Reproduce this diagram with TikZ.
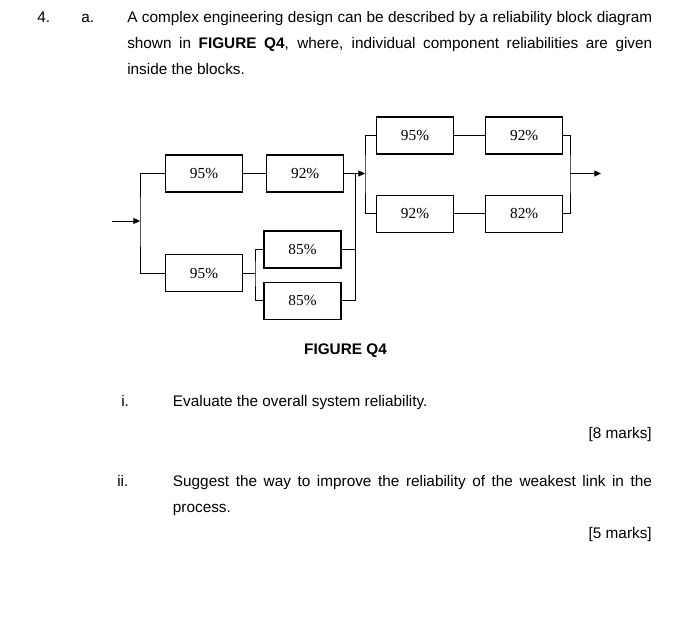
\documentclass[tikz,border=0pt]{standalone}
\usepackage{fontspec}
\setmainfont{Liberation Sans}
\newfontfamily\blkfont{Liberation Serif}
\usetikzlibrary{arrows.meta,positioning}

\begin{document}
\begin{tikzpicture}[
			x=0.75pt, y=-0.75pt,
			font=\fontsize{11.5}{19.6}\selectfont,
			>={Triangle[length=5pt,width=4.5pt]},
			blk/.style={draw, line width=0.9pt, minimum width=57.75pt, minimum height=27.75pt, inner sep=0pt, font=\blkfont\fontsize{11.5}{13}\selectfont},
			fl/.style={line width=0.75pt},
			txt/.style={anchor=base west, inner sep=0pt},
			mrk/.style={anchor=base east, inner sep=0pt}
		]
		\useasboundingbox (0,0) rectangle (700,629);

		% question text
		\node[txt] (num) at (37,22.3) {4.};
		\node[txt] (qa) at (81,22.3) {a.};
		\node[txt] (la) at (127,22.3) {\makebox[393.75pt][s]{A complex engineering design can be described by a reliability block diagram}};
		\node[txt] (lb) at (127,48.5) {\makebox[393.75pt][s]{shown in \textbf{FIGURE Q4}, where, individual component reliabilities are given}};
		\node[txt] (lc) at (127,74.7) {inside the blocks.};

		% blocks
		\node[blk] (a1) at (204,173.5) {95\%};
		\node[blk, right=17.25pt of a1] (a2) {92\%};
		\node[blk] (b1) at (204,273) {95\%};
		\node[blk] (c1) at (302.5,249.5) {85\%};
		\node[blk, below=9.75pt of c1] (c2) {85\%};
		\node[blk] (d1) at (415,135.5) {95\%};
		\node[blk, right=23.25pt of d1] (d2) {92\%};
		\node[blk, below=30pt of d1] (e1) {92\%};
		\node[blk, right=23.25pt of e1] (e2) {82\%};

		\coordinate (in) at (112,221);
		\coordinate (j1) at (140,221);
		\coordinate (m) at (255,273);
		\coordinate (k) at (355,173.5);
		\coordinate (j2) at (365,173.5);
		\coordinate (j3) at (570,173.5);
		\coordinate (out) at (601,173.5);

		\draw[fl, ->] (in) -- (j1);
		\draw[fl] (a1.west) -| (j1) |- (b1.west);
		\draw[fl] (a1) -- (a2);
		\draw[fl, ->] (a2) -- (j2);
		\draw[fl] (b1) -- (m);
		\draw[fl] (c1.west) -| (m) |- (c2.west);
		\draw[fl] (c1.east) -| (k);
		\draw[fl] (c2.east) -| (k);
		\draw[fl] (d1.west) -| (j2) |- (e1.west);
		\draw[fl] (d1) -- (d2);
		\draw[fl] (e1) -- (e2);
		\draw[fl] (d2.east) -| (j3) |- (e2.east);
		\draw[fl, ->] (j3) -- (out);

		\node[anchor=base, inner sep=0pt, font=\bfseries\fontsize{11.5}{13}\selectfont] (fig) at (345.5,354) {FIGURE Q4};

		% parts i and ii
		\node[txt] (qi) at (121,406) {i.};
		\node[txt] (li) at (172.7,406) {Evaluate the overall system reliability.};
		\node[mrk] (mi) at (652,438) {[8 marks]};
		\node[txt] (qii) at (117,486) {ii.};
		\node[txt] (lii) at (172.7,486) {\makebox[359.25pt][s]{Suggest the way to improve the reliability of the weakest link in the}};
		\node[txt] (liib) at (172.7,512) {process.};
		\node[mrk] (mii) at (652,538) {[5 marks]};
	\end{tikzpicture}
\end{document}
